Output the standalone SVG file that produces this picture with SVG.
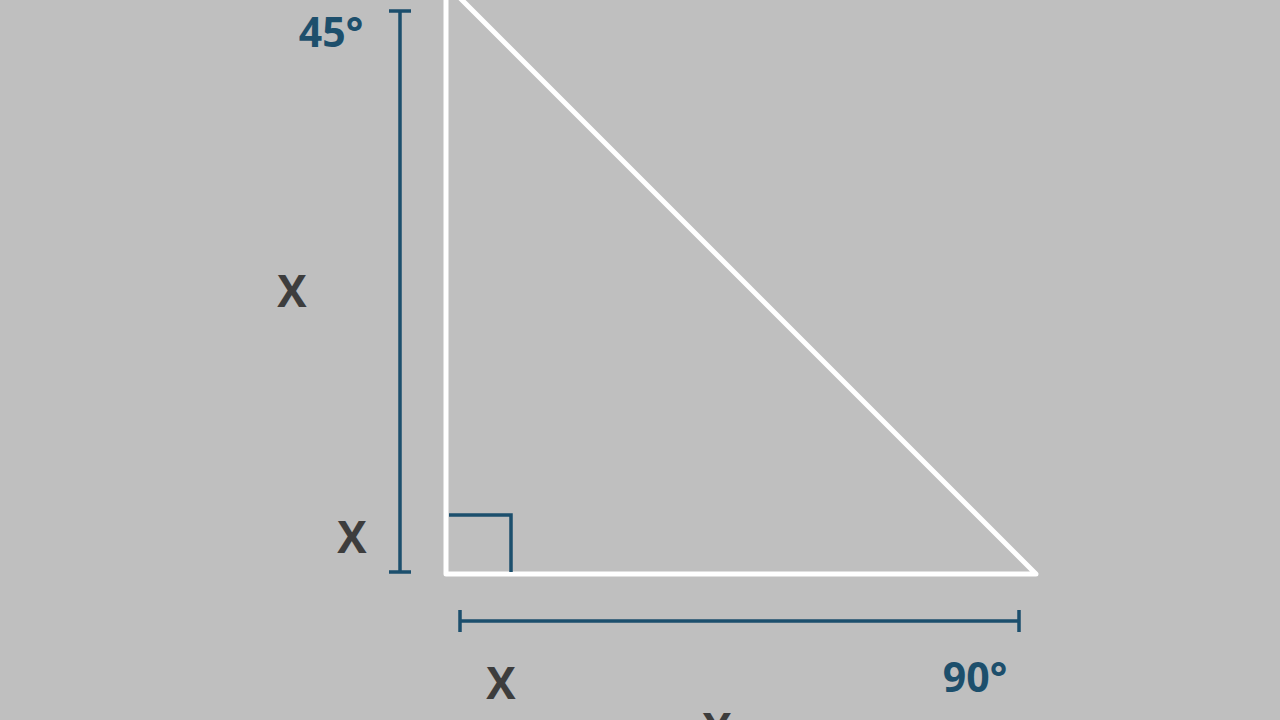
<svg xmlns="http://www.w3.org/2000/svg" width="1280" height="720" viewBox="0 0 1280 720">
<style>
.tri{fill:none;stroke:#ffffff;stroke-width:5;stroke-linejoin:round}
.dim{fill:none;stroke:#1c4f6d;stroke-width:3.5}
.ang{font-family:"Open Sans","Liberation Sans",sans-serif;font-weight:bold;font-size:41px;fill:#1d4f6c}
.var{font-family:"Open Sans","Liberation Sans",sans-serif;font-weight:bold;font-size:44px;fill:#3d3d3d}
</style>
<rect width="1280" height="720" fill="#bfbfbf"/>
<g id="triangle">
<polygon class="tri" points="446,-16 446,574 1036,574"/>
<polyline class="dim" points="449,515 511,515 511,572"/>
</g>
<g id="connectors">
<path class="dim" d="M400,11 V572 M389,11 H411 M389,572 H411"/>
<path class="dim" d="M460,621 H1019 M460,610 V632 M1019,610 V632"/>
</g>
<g id="label-45"><text class="ang" x="331" y="47" text-anchor="middle">45°</text></g>
<g id="label-x1"><text class="var" x="292" y="307" text-anchor="middle">X</text></g>
<g id="label-x2"><text class="var" x="352" y="553" text-anchor="middle">X</text></g>
<g id="label-x3"><text class="var" x="501" y="699" text-anchor="middle">X</text></g>
<g id="label-x4"><text class="var" x="717" y="745" text-anchor="middle">X</text></g>
<g id="label-90"><text class="ang" x="975" y="692" text-anchor="middle">90°</text></g>
</svg>
